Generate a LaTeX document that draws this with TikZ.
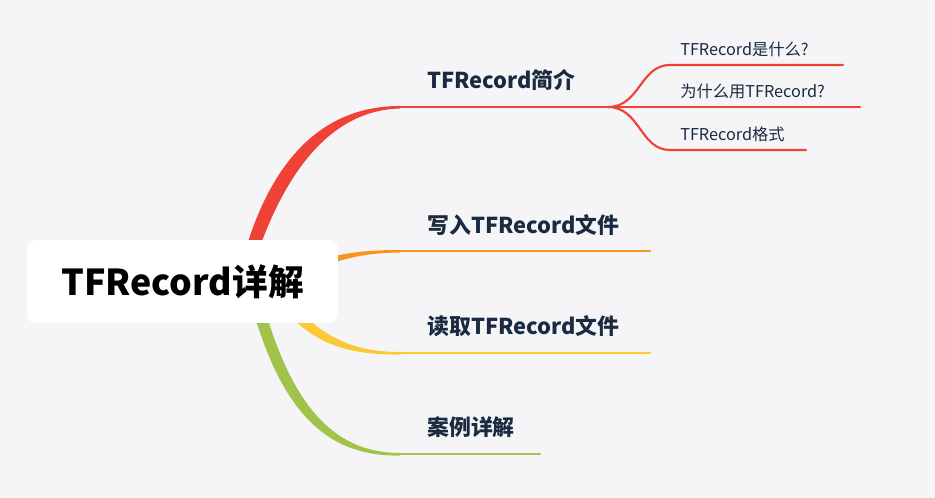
\documentclass[tikz,border=0pt]{standalone}
\usepackage{fontspec}
\setmainfont{Noto Sans CJK SC}
\definecolor{bg}{HTML}{F5F5F8}
\definecolor{cR}{HTML}{EF4136}
\definecolor{cO}{HTML}{F7941D}
\definecolor{cY}{HTML}{FBC934}
\definecolor{cG}{HTML}{A1C349}
\definecolor{txt}{HTML}{1A2A40}
\begin{document}
\begin{tikzpicture}[x=0.75pt,y=-0.75pt,
  lbl/.style={anchor=south west,inner sep=0pt,text=txt,font=\bfseries\fontsize{16.4}{19}\selectfont},
  sub/.style={anchor=south west,inner sep=0pt,text=txt,font=\fontsize{12.2}{14}\selectfont},
  ln/.style={line width=1.6pt,line cap=round}]
\fill[bg] (0,0) rectangle (935,498);
\useasboundingbox (0,0) rectangle (935,498);
% tapered branches
\fill[cR] (240,270) .. controls (270,150) and (330,106) .. (400,106) -- (400,108.5) .. controls (335,110) and (285,165) .. (252,270) -- cycle;
\fill[cO] (300,268) .. controls (330,254) and (360,250) .. (400,250) -- (400,252.5) .. controls (360,253) and (335,260) .. (305,275) -- cycle;
\fill[cY] (290,300) .. controls (320,335) and (350,352) .. (400,352) -- (400,354.5) .. controls (350,355) and (315,345) .. (285,310) -- cycle;
\fill[cG] (262,300) .. controls (290,400) and (330,453) .. (400,453) -- (400,455.5) .. controls (325,457) and (280,410) .. (250,300) -- cycle;
% underlines
\coordinate (r0) at (400,107);
\coordinate (r1) at (608,107);
\draw[cR,ln] (r0) -- (r1);
\draw[cO,ln] (400,251) -- (650,251);
\draw[cY,ln] (400,353) -- (650,353);
\draw[cG,ln] (400,454) -- (540,454);
% sub branches
\draw[cR,ln] (r1) .. controls (640,107) and (640,65) .. (670,65) -- (843,65);
\draw[cR,ln] (r1) -- (860,107);
\draw[cR,ln] (r1) .. controls (640,107) and (640,150) .. (670,150) -- (806,150);
% root
\node[fill=white,rounded corners=6pt,minimum width=233pt,minimum height=62pt,inner sep=0pt,font=\bfseries\fontsize{26.8}{32}\selectfont,text=black] (root) at (182.5,281.5) {TFRecord详解};
% labels
\node[lbl] (a) at (427,91) {TFRecord简介};
\node[lbl] (b) at (427,236) {写入TFRecord文件};
\node[lbl] (c) at (427,337) {读取TFRecord文件};
\node[lbl] (d) at (427,438) {案例详解};
\node[sub] (a1) at (680,57) {TFRecord是什么?};
\node[sub] (a2) at (680,99) {为什么用TFRecord?};
\node[sub] (a3) at (680,142) {TFRecord格式};
\end{tikzpicture}
\end{document}
